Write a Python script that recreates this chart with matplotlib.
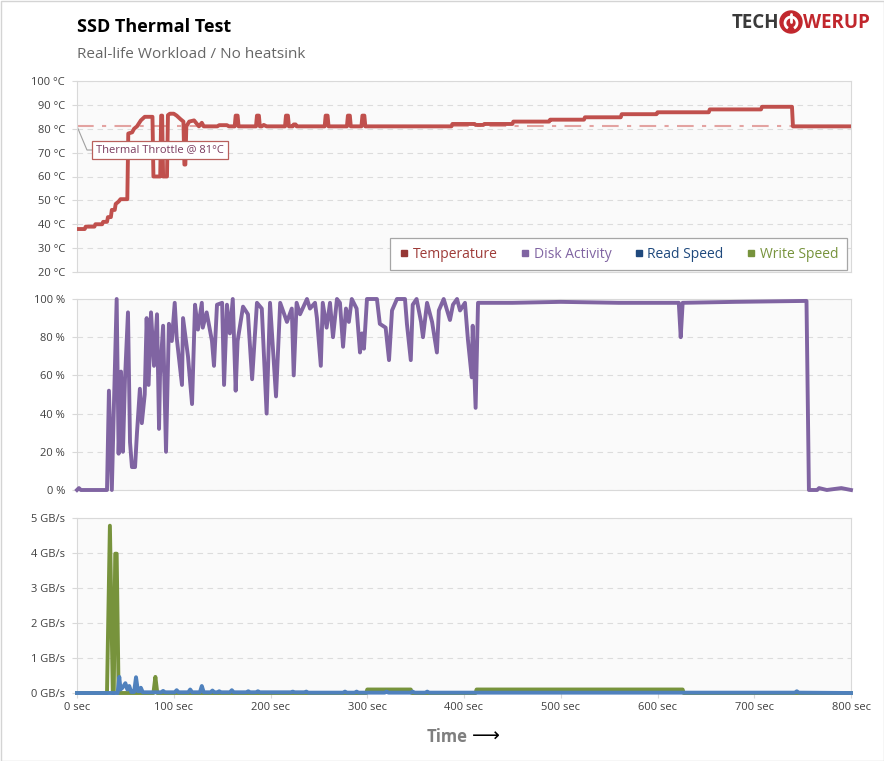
import matplotlib.pyplot as plt
from matplotlib.lines import Line2D
from matplotlib.patches import Circle, Arc, Rectangle

plt.rcParams['font.family'] = ['Open Sans', 'DejaVu Sans']

# ---- data ----
temp_time = [0, 8, 9, 18, 19, 26, 27, 31, 32, 35, 36, 39, 40, 43, 45, 52, 53, 57, 59, 62, 66, 70, 78,
             79, 86, 87, 88, 89, 93, 94, 96, 100, 103, 107, 110, 111, 112, 113, 116, 121, 124, 126,
             129, 131, 145, 147, 155, 157, 163, 164, 166, 167, 185, 186, 188, 189, 191, 193, 196,
             215, 216, 218, 219, 223, 224, 226, 227, 256, 257, 259, 260, 279, 280, 282, 283,
             294, 295, 297, 298, 387, 388, 411, 412, 420, 421, 450, 451, 488, 489, 524, 525,
             562, 563, 599, 600, 653, 654, 707, 708, 739, 740, 800]
temp_c = [38, 38, 39, 39, 40, 40, 41, 41, 43, 43, 46, 46, 48.5, 49.5, 50.5, 50.5, 78, 78.5, 80, 81, 83.5, 85, 85,
          60, 60, 85.5, 85.5, 60, 60, 85.7, 86.3, 86.3, 85.5, 84, 83, 65, 65, 81, 83, 83.5, 82, 81,
          82.5, 81, 81, 81.5, 81.5, 81, 81, 85.5, 85.5, 81, 81, 85.5, 85.5, 81, 81, 81.6, 81,
          81, 85.5, 85.5, 81, 81, 81.8, 81.8, 81, 81, 85.5, 85.5, 81, 81, 85.5, 85.5, 81,
          81, 85.5, 85.5, 81, 81, 82, 82, 81.6, 81.6, 82, 82, 83, 83, 83.8, 83.8, 84.8,
          84.8, 86.1, 86.1, 86.9, 86.9, 88.1, 88.1, 89.2, 89.2, 81, 81]
throttle_c = 81

activity_time = [0, 2, 4, 31, 33, 36, 38, 41, 43, 45.5, 47.5, 49.6, 52.7, 54.8, 56.8, 60, 62, 65, 67, 70,
                 72, 74, 76.5, 79.6, 82.7, 84.8, 85.8, 89, 92, 95, 98, 101, 103, 108.5, 109.6, 114.7,
                 118.9, 122, 125, 129, 130, 134, 139.5, 141.6, 144.7, 150, 152, 155, 158, 161, 164,
                 166, 171.6, 176.7, 181, 186, 191, 196, 199.5, 205.7, 210, 217, 222, 224, 227, 230.5,
                 237.7, 240.8, 246, 248, 252, 254, 258, 261.5, 264.6, 268.7, 271.8, 275, 278, 281,
                 284, 289, 292.5, 294.6, 296.6, 299.7, 310, 313, 319, 322.5, 325.6, 330.7, 339, 341,
                 345, 347, 351, 355.6, 357.6, 361.8, 367, 372, 374, 379, 385.5, 388.6, 392.8, 395.9,
                 401, 404, 408, 409, 412, 414.5, 450, 500, 560, 622, 624, 626, 680, 754, 756.5, 765,
                 767, 775, 790, 800]
activity_pct = [0, 1, 0, 0, 52, 0, 41, 100, 19, 62, 20, 58, 93, 25, 12, 12, 30, 53, 35, 50,
                90, 55, 93, 65, 92, 32, 60, 86, 20, 87, 78, 98, 80, 55, 90, 70,
                45, 97, 84, 98, 85, 93, 78, 65, 97, 98, 55, 97, 82, 100, 52,
                78, 96, 92, 58, 98, 95, 40, 98, 49, 98, 88, 95, 60, 98, 92,
                100, 95, 98, 90, 65, 98, 85, 98, 80, 100, 98, 75, 95, 88,
                100, 95, 72, 82, 74, 100, 100, 87, 85, 68, 94, 100, 100, 87,
                68, 97, 100, 88, 80, 98, 88, 72, 94, 100, 89, 97, 100, 94,
                98, 79, 59, 86, 43, 98, 98, 98.5, 98, 98, 80, 98, 98.5, 99, 0, 0,
                1, 0, 1, 0]

read_time = [0, 42, 43.7, 45, 47, 50, 52, 54, 56, 59, 61, 63, 65, 66, 68,
             87, 89, 91, 101, 103, 105, 115, 117, 119, 127, 129, 131, 138, 140, 142,
             145, 147, 149, 158, 160, 162, 175, 177, 179, 185, 187, 189, 221, 223, 225,
             235, 237, 239, 275, 277, 279, 287, 289, 291, 318, 320, 322, 345, 347, 349,
             360, 362, 364, 742, 744, 746, 800]
read_gbs = [0, 0, 0.46, 0.1, 0.15, 0.28, 0.1, 0.2, 0.03, 0.03, 0.45, 0.05, 0.05, 0.15, 0.02,
            0.02, 0.06, 0.02, 0.02, 0.08, 0.02, 0.02, 0.1, 0.02, 0.02, 0.2, 0.02, 0.02, 0.07, 0.02,
            0.02, 0.05, 0.02, 0.02, 0.08, 0.02, 0.02, 0.05, 0.02, 0.02, 0.05, 0.02, 0.02, 0.04, 0.02,
            0.02, 0.04, 0.01, 0.01, 0.04, 0.01, 0.01, 0.04, 0.01, 0.01, 0.04, 0.01, 0.01, 0.04, 0.01,
            0.01, 0.04, 0.01, 0.01, 0.05, 0.01, 0]

write_time = [0, 31, 34, 37, 38, 39.5, 41, 43, 79, 81, 83, 299, 300, 345, 346, 412, 413, 626, 627, 800]
write_gbs = [0, 0, 4.78, 0, 0, 3.98, 3.98, 0, 0, 0.46, 0, 0, 0.1, 0.1, 0, 0, 0.1, 0.1, 0, 0]

temp_ticks = [20, 30, 40, 50, 60, 70, 80, 90, 100]
pct_ticks = [0, 20, 40, 60, 80, 100]
speed_ticks = [0, 1, 2, 3, 4, 5]
time_ticks = [0, 100, 200, 300, 400, 500, 600, 700, 800]

c_temp = '#c0504d'
c_act = '#8064a2'
c_read = '#4f81bd'
c_write = '#77933c'
LW = 2.8

W, H = 884, 761
fig = plt.figure(figsize=(W / 100, H / 100), dpi=100)

# overlay in pixel coords for titles / logo / border
deco = fig.add_axes([0, 0, 1, 1], zorder=0)
deco.set_xlim(0, W)
deco.set_ylim(H, 0)
deco.axis('off')
deco.add_patch(Rectangle((0.5, 0.5), W - 1, H - 1, fill=False, edgecolor='#d4d4d4', lw=1))
deco.text(77, 27, 'SSD Thermal Test', fontsize=13, fontweight='bold', color='black', va='center')
deco.text(77, 55, 'Real-life Workload / No heatsink', fontsize=11, color='#666666', va='center')
deco.text(779, 23, 'TECH', fontsize=13.5, fontweight='bold', color='#3a3a3a', va='center', ha='right')
deco.add_patch(Circle((791, 22), 11, color='#c1272d'))
deco.add_patch(Arc((791, 23), 12, 12, theta1=-240, theta2=60, color='white', lw=2))
deco.plot([791, 791], [14, 22], color='white', lw=2, solid_capstyle='round')
deco.text(803, 23, 'WERUP', fontsize=13.5, fontweight='bold', color='#c1272d', va='center', ha='left')
deco.text(447, 737, 'Time', fontsize=12, fontweight='bold', color='#7f7f7f', va='center', ha='center')
deco.text(486, 736, '⟶', fontsize=14, color='black', va='center', ha='center', family='DejaVu Sans')

left, width = 77 / W, 774 / W
ax1 = fig.add_axes([left, 1 - 272 / H, width, 191 / H], zorder=1)
ax2 = fig.add_axes([left, 1 - 490 / H, width, 191 / H], zorder=1)
ax3 = fig.add_axes([left, 1 - 693 / H, width, 175 / H], zorder=1)


def style(ax, ticks, labels, lo, hi):
    ax.set_facecolor('#fafafa')
    ax.set_xlim(0, 800)
    ax.set_ylim(lo, hi)
    for s in ax.spines.values():
        s.set_color('#d9d9d9')
    ax.set_yticks(ticks)
    ax.set_yticklabels(labels)
    ax.tick_params(axis='y', length=3.6, width=0.8, color='#d9d9d9', labelsize=8,
                   labelcolor='#404040', pad=5)
    ax.grid(axis='y', color='#dcdcdc', linestyle=(0, (5, 4)), linewidth=0.8)
    ax.set_axisbelow(True)
    ax.set_xticks(time_ticks)
    ax.tick_params(axis='x', bottom=False, labelbottom=False)


style(ax1, temp_ticks, [f'{t} °C' for t in temp_ticks], 20, 100)
style(ax2, pct_ticks, [f'{p} %' for p in pct_ticks], 0, 100)
style(ax3, speed_ticks, [f'{s} GB/s' for s in speed_ticks], 0, 5)
ax3.tick_params(axis='x', bottom=True, labelbottom=True, length=3.6, width=0.8,
                color='#d9d9d9', labelsize=8, labelcolor='#404040', pad=3)
ax3.set_xticklabels([f'{t} sec' for t in time_ticks])

# temperature panel
ax1.axhline(throttle_c, color='#e3a3a1', lw=1.5, linestyle=(0, (8, 4, 2, 4)), zorder=2)
ax1.plot(temp_time, temp_c, color=c_temp, lw=LW, zorder=3, solid_joinstyle='round')
ax1.plot([0, 10.3, 16.5], [throttle_c, 71.1, 71.1], color='#a0a0a0', lw=0.8, zorder=2)
ax1.text(20, 71.1, 'Thermal Throttle @ 81°C', fontsize=8, color='#7a3b5e', va='center', ha='left',
         zorder=4, bbox=dict(boxstyle='square,pad=0.35', fc='white', ec='#b9605c', lw=0.9))

handles = [Line2D([], [], marker='s', ls='none', color=c, markersize=5)
           for c in ['#953735', c_act, '#1f497d', c_write]]
leg = ax1.legend(handles, ['Temperature', 'Disk Activity', 'Read Speed', 'Write Speed'],
                 loc='lower right', bbox_to_anchor=(0.997, 0.0), ncol=4, fontsize=10,
                 labelcolor=['#9e3b38', c_act, '#1f497d', c_write], frameon=True, fancybox=False,
                 framealpha=1, edgecolor='#a6a6a6', handletextpad=0.2, columnspacing=1.6,
                 handlelength=0.8, borderpad=0.6, borderaxespad=0.15)
leg.get_frame().set_linewidth(0.9)
leg.set_zorder(5)

# disk activity panel
ax2.plot(activity_time, activity_pct, color=c_act, lw=LW, clip_on=False, zorder=3,
         solid_joinstyle='round')

# speed panel
ax3.plot(write_time, write_gbs, color=c_write, lw=LW, clip_on=False, zorder=3)
ax3.plot(read_time, read_gbs, color=c_read, lw=LW, clip_on=False, zorder=4)

fig.savefig('out.png', dpi=100)
